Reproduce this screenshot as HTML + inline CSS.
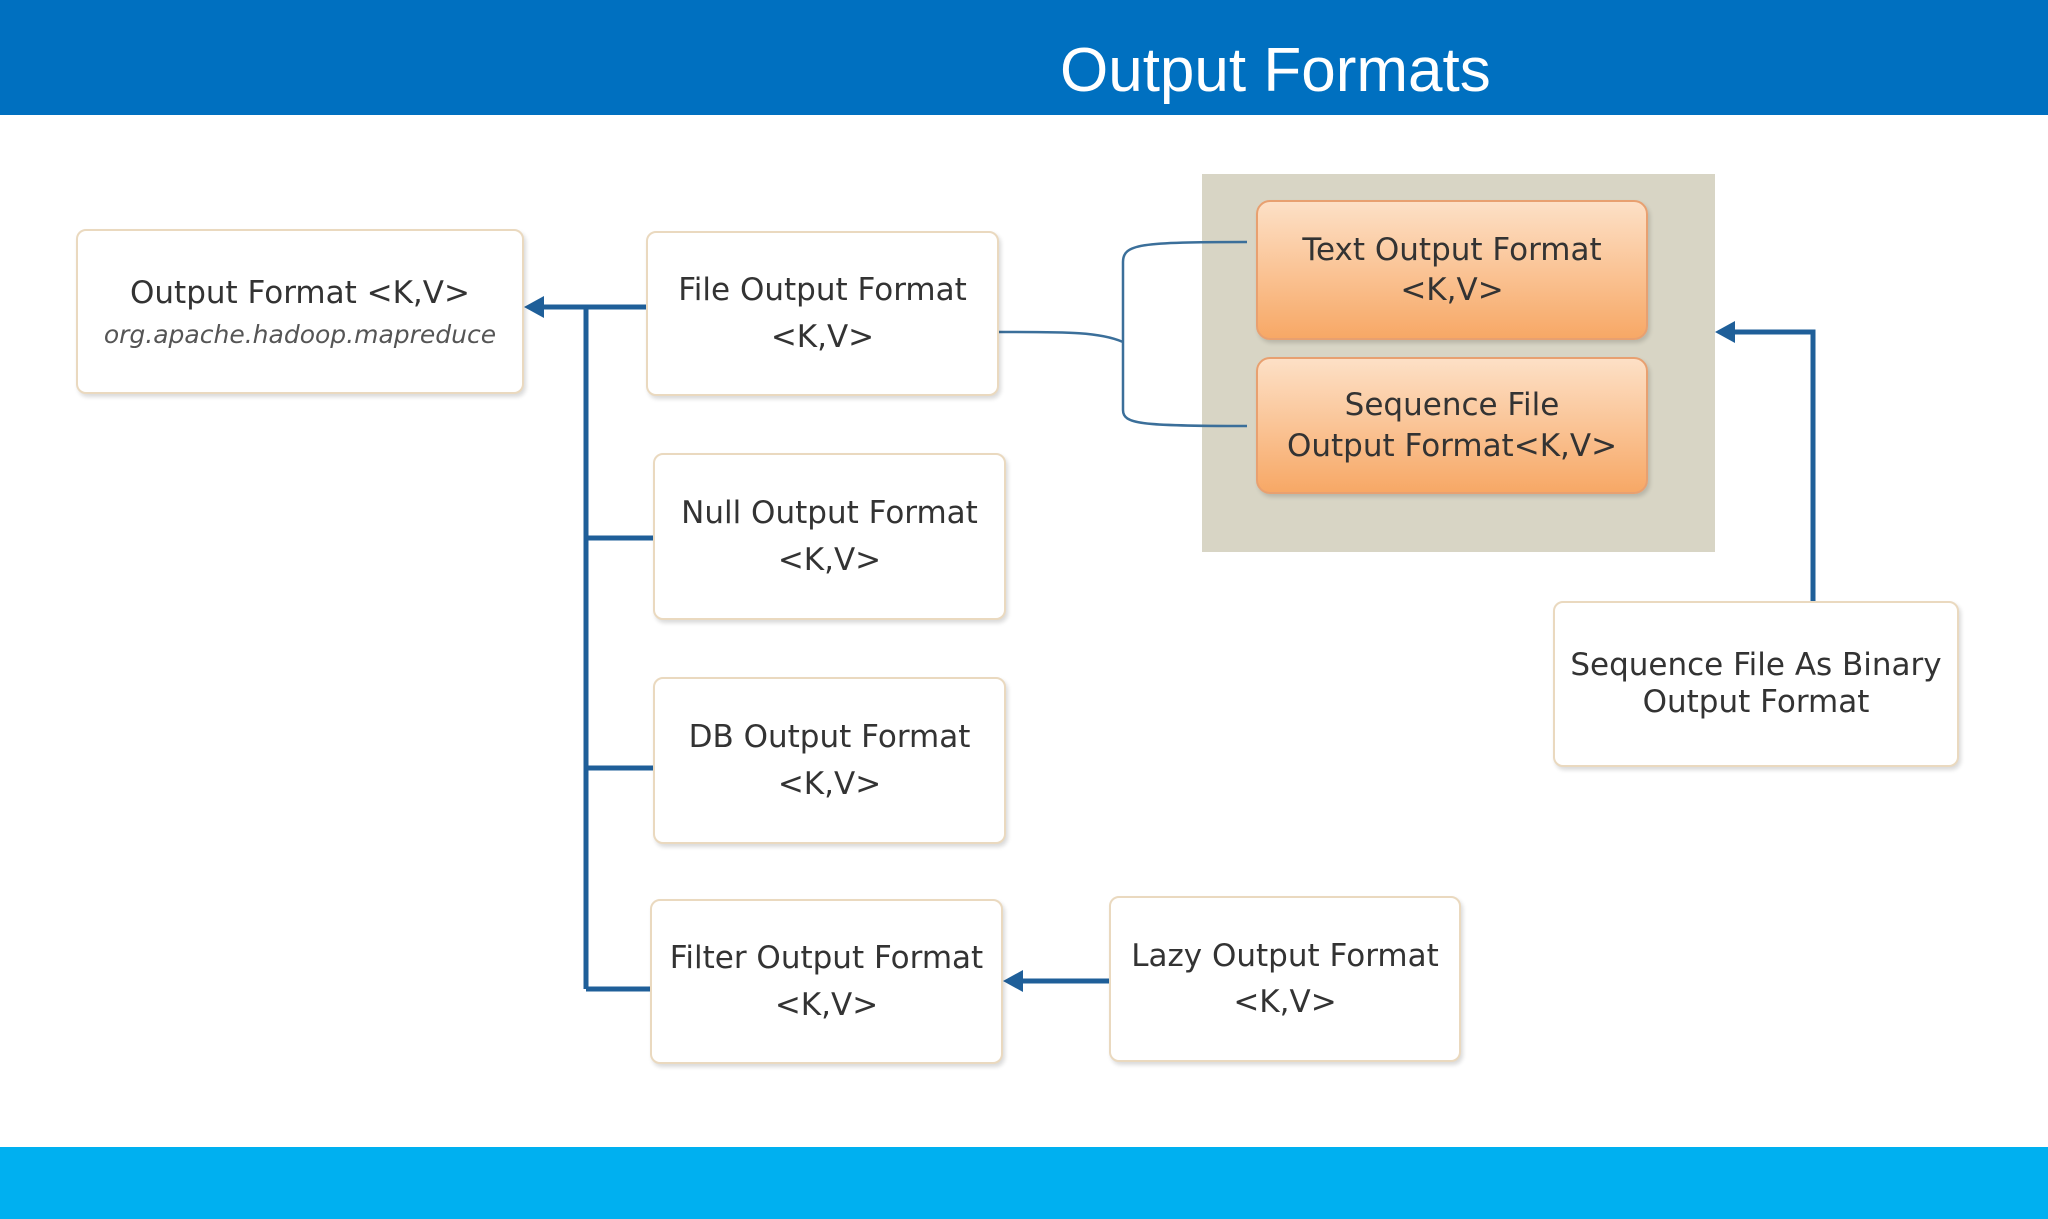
<!DOCTYPE html>
<html><head><style>
body{margin:0;width:2048px;height:1219px;position:relative;background:#fff;font-family:"DejaVu Sans","Liberation Sans",sans-serif;overflow:hidden}
.hdr{position:absolute;left:0;top:0;width:2048px;height:115px;background:#0070c0}
.hdr div{position:absolute;left:1060px;top:40px;color:#fff;font-family:"Liberation Sans",sans-serif;font-size:62px;line-height:1}
.ftr{position:absolute;left:0;top:1147px;width:2048px;height:72px;background:#00b0f0}
.b{position:absolute;box-sizing:border-box;border:2px solid #ead9bf;border-radius:10px;background:#fff;box-shadow:2px 3px 4px rgba(0,0,0,.15);display:flex;flex-direction:column;justify-content:center;align-items:center;text-align:center;font-size:31px;color:#333;line-height:1.5}
.o{background:linear-gradient(#fde0c6,#f7a866);border-color:#e8a070;border-radius:14px;line-height:1.3}
.pan{position:absolute;left:1202px;top:174px;width:513px;height:378px;background:#d8d5c5}
</style></head><body>
<div class="hdr"><div>Output Formats</div></div>
<div class="pan"></div>
<svg style="position:absolute;left:0;top:0" width="2048" height="1219">
<g stroke="#1f5f99" stroke-width="5" fill="none">
<path d="M586 307V989M540 307H646M586 538H653M586 768H653M586 989H650"/>
<path d="M1109 981H1020"/>
<path d="M1813 601V332H1730"/>
</g>
<g fill="#1f5f99">
<polygon points="524,307 544,296 544,318"/>
<polygon points="1003,981 1023,970 1023,992"/>
<polygon points="1715,332 1735,321 1735,343"/>
</g>
<path d="M999 332C1070 332 1100 332 1123 342M1123 342V262C1123 244 1140 242 1247 242M1123 342V410C1123 424 1140 426 1247 426" stroke="#3b6f9a" stroke-width="2.5" fill="none"/>
</svg>
<div class="b" style="left:76px;top:229px;width:448px;height:165px">Output Format &lt;K,V&gt;<span style="font-style:italic;font-size:25px;color:#555">org.apache.hadoop.mapreduce</span></div>
<div class="b" style="left:646px;top:231px;width:353px;height:165px">File Output Format<br>&lt;K,V&gt;</div>
<div class="b" style="left:653px;top:453px;width:353px;height:167px">Null Output Format<br>&lt;K,V&gt;</div>
<div class="b" style="left:653px;top:677px;width:353px;height:167px">DB Output Format<br>&lt;K,V&gt;</div>
<div class="b" style="left:650px;top:899px;width:353px;height:165px">Filter Output Format<br>&lt;K,V&gt;</div>
<div class="b" style="left:1109px;top:896px;width:352px;height:166px">Lazy Output Format<br>&lt;K,V&gt;</div>
<div class="b o" style="left:1256px;top:200px;width:392px;height:140px">Text Output Format<br>&lt;K,V&gt;</div>
<div class="b o" style="left:1256px;top:357px;width:392px;height:137px">Sequence File<br>Output Format&lt;K,V&gt;</div>
<div class="b" style="left:1553px;top:601px;width:406px;height:166px;line-height:1.2">Sequence File As Binary<br>Output Format</div>
<div class="ftr"></div>
</body></html>
